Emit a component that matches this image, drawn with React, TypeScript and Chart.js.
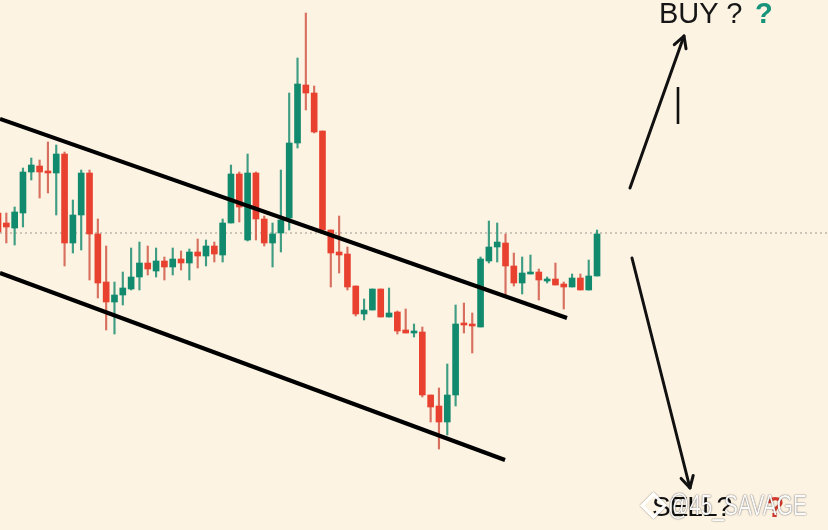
import React, { useEffect, useRef } from "react";
import { Chart, registerables } from "chart.js";

Chart.register(...registerables);

// Candle data (price units; higher = up)
const candleOpen = [317,307,302,317,358,364,359,357,376,287,315,357,296,248,228,235,241,253,267,259,269,263,271,267,278,274,284,275,307,356,290,357,311,287,297,312,387,445,437,399,300,278,276,244,216,220,241,213,218,200,197,198,135,124,108,135,207,206,203,269,283,287,264,247,256,258,249,251,246,243,252,240,254];
const candleHigh = [327,317,323,362,372,370,388,385,378,330,360,360,311,284,248,258,282,288,284,282,273,282,279,281,291,290,288,311,365,358,376,358,314,307,360,437,472,517,444,399,300,314,283,244,231,241,241,242,219,221,206,203,135,142,166,225,227,217,273,309,307,296,277,273,275,261,253,267,248,256,256,270,300];
const candleLow = [287,287,285,303,350,332,337,315,264,277,280,250,232,200,196,225,240,240,255,253,250,255,260,250,262,264,268,268,307,308,289,290,284,263,278,300,382,420,397,300,243,257,240,214,210,220,213,213,196,197,193,133,108,81,95,124,197,177,203,267,268,233,244,236,256,230,247,245,221,243,240,240,254];
const candleClose = [298,303,318,358,365,358,357,376,287,315,357,296,247,228,235,242,253,267,261,269,263,271,267,278,274,284,276,307,356,323,357,311,287,296,310,387,446,437,398,300,277,275,243,216,220,241,213,217,199,197,198,135,123,108,135,206,205,204,271,283,288,264,247,257,258,250,251,245,243,252,240,254,296];

// Trend channel lines (x in candle index units, y in price)
const upperLineX = [0.24, 68.39];
const upperLineY = [411, 212];
const lowerLineX = [0.24, 60.94];
const lowerLineY = [257, 70];
const refLineX = [0.24, 99.76];
const refLineY = [297, 297];

// Annotation arrows
const buyArrowX = [75.96, 82.45];
const buyArrowY = [342, 494];
const sellArrowX = [76.2, 83.17];
const sellArrowY = [272, 42];
const tickMarkX = [81.73, 81.73];
const tickMarkY = [443, 406];

const GREEN = "#118a6d";
const RED = "#e8412f";
const GREEN_WICK = "#3f9d83";
const RED_WICK = "#d8705f";

export default function App() {
  const ref = useRef<HTMLCanvasElement | null>(null);

  useEffect(() => {
    document.body.style.margin = "0";
    const canvas = ref.current;
    if (!canvas) return;
    const idx = candleOpen.map((_, i) => i);
    const up = idx.map((i) => candleClose[i] >= candleOpen[i]);

    const arrowPlugin = {
      id: "arrows",
      afterDatasetsDraw(chart: any) {
        const { ctx, scales } = chart;
        const xs = scales.x;
        const ys = scales.y;
        const px = (v: number) => xs.getPixelForValue(v);
        const py = (v: number) => ys.getPixelForValue(v);
        ctx.save();
        ctx.strokeStyle = "#111";
        ctx.lineCap = "round";
        ctx.lineJoin = "round";
        const drawArrow = (ax: number[], ay: number[]) => {
          const x1 = px(ax[0]), y1 = py(ay[0]), x2 = px(ax[1]), y2 = py(ay[1]);
          ctx.lineWidth = 3;
          ctx.beginPath();
          ctx.moveTo(x1, y1);
          ctx.lineTo(x2, y2);
          ctx.stroke();
          const ang = Math.atan2(y2 - y1, x2 - x1);
          const len = 13;
          const spread = 0.5;
          ctx.beginPath();
          ctx.moveTo(x2 - len * Math.cos(ang - spread), y2 - len * Math.sin(ang - spread));
          ctx.lineTo(x2, y2);
          ctx.lineTo(x2 - len * Math.cos(ang + spread), y2 - len * Math.sin(ang + spread));
          ctx.stroke();
        };
        drawArrow(buyArrowX, buyArrowY);
        drawArrow(sellArrowX, sellArrowY);
        ctx.lineWidth = 2.6;
        ctx.lineCap = "butt";
        ctx.beginPath();
        ctx.moveTo(px(tickMarkX[0]), py(tickMarkY[0]));
        ctx.lineTo(px(tickMarkX[1]), py(tickMarkY[1]));
        ctx.stroke();
        ctx.restore();
      },
    };

    const chart = new Chart(canvas, {
      type: "bar",
      data: {
        datasets: [
          {
            type: "line",
            label: "ref",
            data: refLineX.map((x, i) => ({ x, y: refLineY[i] })),
            borderColor: "#9c958c",
            borderWidth: 1,
            borderDash: [2, 3],
            pointRadius: 0,
            order: 5,
          } as any,
          {
            label: "wick",
            data: idx.map((i) => ({ x: i, y: [candleLow[i], candleHigh[i]] })),
            backgroundColor: idx.map((i) => (up[i] ? GREEN_WICK : RED_WICK)),
            barThickness: 1.5,
            grouped: false,
            order: 2,
          } as any,
          {
            label: "body",
            data: idx.map((i) => ({ x: i, y: [candleOpen[i], candleClose[i]] })),
            backgroundColor: idx.map((i) => (up[i] ? GREEN : RED)),
            barThickness: 6,
            minBarLength: 2,
            grouped: false,
            order: 1,
          } as any,
          {
            type: "line",
            label: "upper",
            data: upperLineX.map((x, i) => ({ x, y: upperLineY[i] })),
            borderColor: "#000",
            borderWidth: 4,
            pointRadius: 0,
            order: 0,
          } as any,
          {
            type: "line",
            label: "lower",
            data: lowerLineX.map((x, i) => ({ x, y: lowerLineY[i] })),
            borderColor: "#000",
            borderWidth: 4,
            pointRadius: 0,
            order: 0,
          } as any,
        ],
      },
      options: {
        animation: false,
        responsive: false,
        maintainAspectRatio: false,
        layout: { padding: 0 },
        plugins: { legend: { display: false }, tooltip: { enabled: false }, title: { display: false } },
        scales: {
          x: { type: "linear", min: 0.24, max: 99.76, display: false, offset: false },
          y: { type: "linear", min: 0, max: 530, display: false },
        },
      } as any,
      plugins: [arrowPlugin],
    });
    return () => chart.destroy();
  }, []);

  const font = "'Liberation Sans', Arial, sans-serif";
  return (
    <div
      style={{
        position: "absolute",
        left: 0,
        top: 0,
        width: 828,
        height: 530,
        background: "#fdf3e3",
        overflow: "hidden",
        fontFamily: font,
      }}
    >
      <canvas ref={ref} width={828} height={530} style={{ position: "absolute", left: 0, top: 0 }} />
      <div style={{ position: "absolute", left: 659, top: -1, fontSize: 29, lineHeight: "29px", color: "#161616", whiteSpace: "pre" }}>
        BUY ?
      </div>
      <div style={{ position: "absolute", left: 755, top: -1, fontSize: 29, lineHeight: "29px", color: "#17937a", fontWeight: "bold" }}>
        ?
      </div>
      <div style={{ position: "absolute", left: 652, top: 492, fontSize: 28, lineHeight: "29px", color: "#111", letterSpacing: -1 }}>
        SELL?
      </div>
      <div style={{ position: "absolute", left: 766, top: 492, fontSize: 30, lineHeight: "29px", color: "#d63a2c", fontWeight: "bold" }}>
        ?
      </div>
      <div
        style={{
          position: "absolute",
          left: 644,
          top: 496,
          width: 13,
          height: 13,
          border: "3px solid rgba(255,255,255,0.95)",
          boxShadow: "0 0 2px rgba(0,0,0,0.45)",
          transform: "rotate(45deg)",
        }}
      />
      <div
        style={{
          position: "absolute",
          left: 668,
          top: 491,
          fontSize: 29,
          lineHeight: "29px",
          color: "rgba(255,255,255,0.97)",
          textShadow: "0 0 2px rgba(0,0,0,0.55), 0 0 1px rgba(0,0,0,0.4)",
          transform: "scaleX(0.72)",
          transformOrigin: "left center",
          whiteSpace: "pre",
        }}
      >
        @45_SAVAGE
      </div>
    </div>
  );
}
